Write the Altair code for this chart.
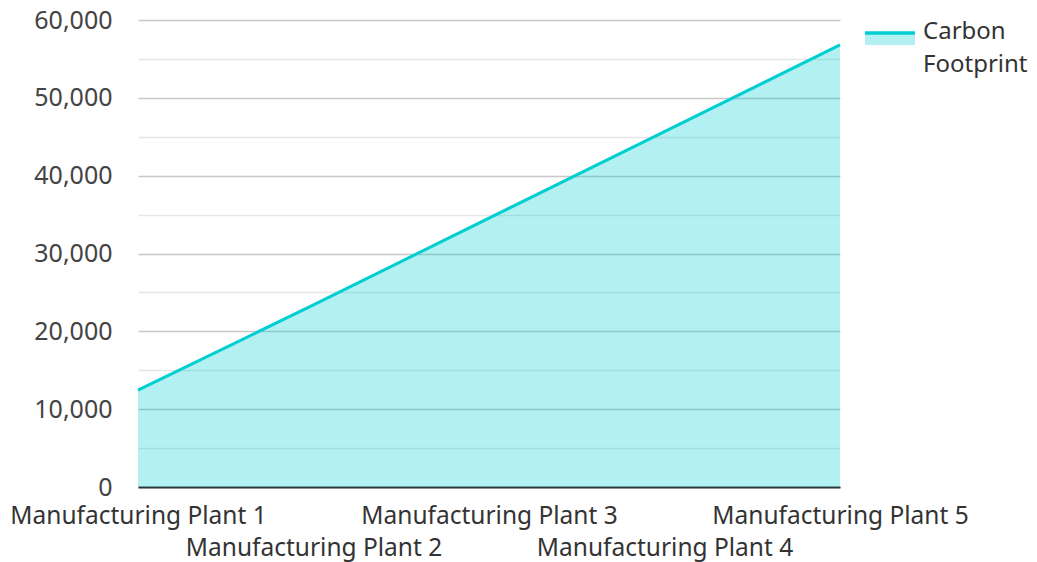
import altair as alt
import pandas as pd

plants = ["Manufacturing Plant 1", "Manufacturing Plant 2", "Manufacturing Plant 3",
          "Manufacturing Plant 4", "Manufacturing Plant 5"]
footprint = [12450, 23400, 34550, 45650, 56800]
series = ["Carbon Footprint"] * len(plants)
y_ticks = list(range(0, 60001, 5000))

df = pd.DataFrame({"plant": plants, "value": footprint, "series": series})

FONT = "Noto Sans"
CYAN = "#00CED1"
FS = 24.5

x_enc = alt.X(
    "plant:N", sort=plants, title=None,
    scale=alt.Scale(type="point", padding=0),
    axis=alt.Axis(
        labelAngle=0, ticks=False, grid=False,
        domainColor="#333333", domainWidth=2,
        labelFont=FONT, labelFontSize=FS, labelColor="#333333",
        labelBaseline="top", labelPadding=17, labelLineHeight=32.5,
        labelLimit=400, labelOverlap=False,
        labelExpr="indexof(['Manufacturing Plant 2','Manufacturing Plant 4'], datum.value) >= 0 ? ['', datum.value] : datum.value",
    ),
)

y_enc = alt.Y(
    "value:Q", title=None,
    scale=alt.Scale(domain=[0, 60000], nice=False),
    axis=alt.Axis(
        values=y_ticks, ticks=False, domain=False,
        labelFont=FONT, labelFontSize=25, labelColor="#444444", labelPadding=26,
        labelExpr="datum.value % 10000 === 0 ? format(datum.value, ',') : ''",
        gridColor={"condition": {"test": "datum.value % 10000 === 0", "value": "#c8c8c8"},
                   "value": "#e6e6e6"},
        gridWidth=1.5,
    ),
)

base = alt.Chart(df)

area = base.mark_area(color=CYAN, opacity=0.3).encode(x=x_enc, y=y_enc)

legend_path = "M-1,-0.24L1,-0.24L1,0.24L-1,0.24Z"
line = base.mark_line(strokeWidth=3).encode(
    x=x_enc, y=y_enc,
    color=alt.Color(
        "series:N", title=None,
        scale=alt.Scale(range=[CYAN]),
        legend=alt.Legend(
            orient="none", legendX=725, legendY=-8, padding=0,
            labelFont=FONT, labelFontSize=24, labelColor="#333333",
            labelExpr="split(datum.label, ' ')",
            labelBaseline="alphabetic",
            labelOffset=6, labelLimit=300,
            symbolType=legend_path, symbolSize=2500,
            symbolFillColor="#b3f0f1", symbolStrokeColor=CYAN,
            symbolStrokeWidth=3.5, symbolDash=[50, 1000], symbolOpacity=1,
        ),
    ),
)

chart = (
    alt.layer(area, line)
    .properties(
        width=702, height=467,
        autosize=alt.AutoSizeParams(type="none"),
        padding={"left": 130, "top": 12, "right": 189, "bottom": 76},
    )
    .configure(
        view=alt.ViewConfig(strokeWidth=0, stroke="transparent"),
        style={"guide-label": {"lineHeight": 33}},
    )
)

chart.save("out.html", embed_options={"renderer": "svg", "actions": False})
